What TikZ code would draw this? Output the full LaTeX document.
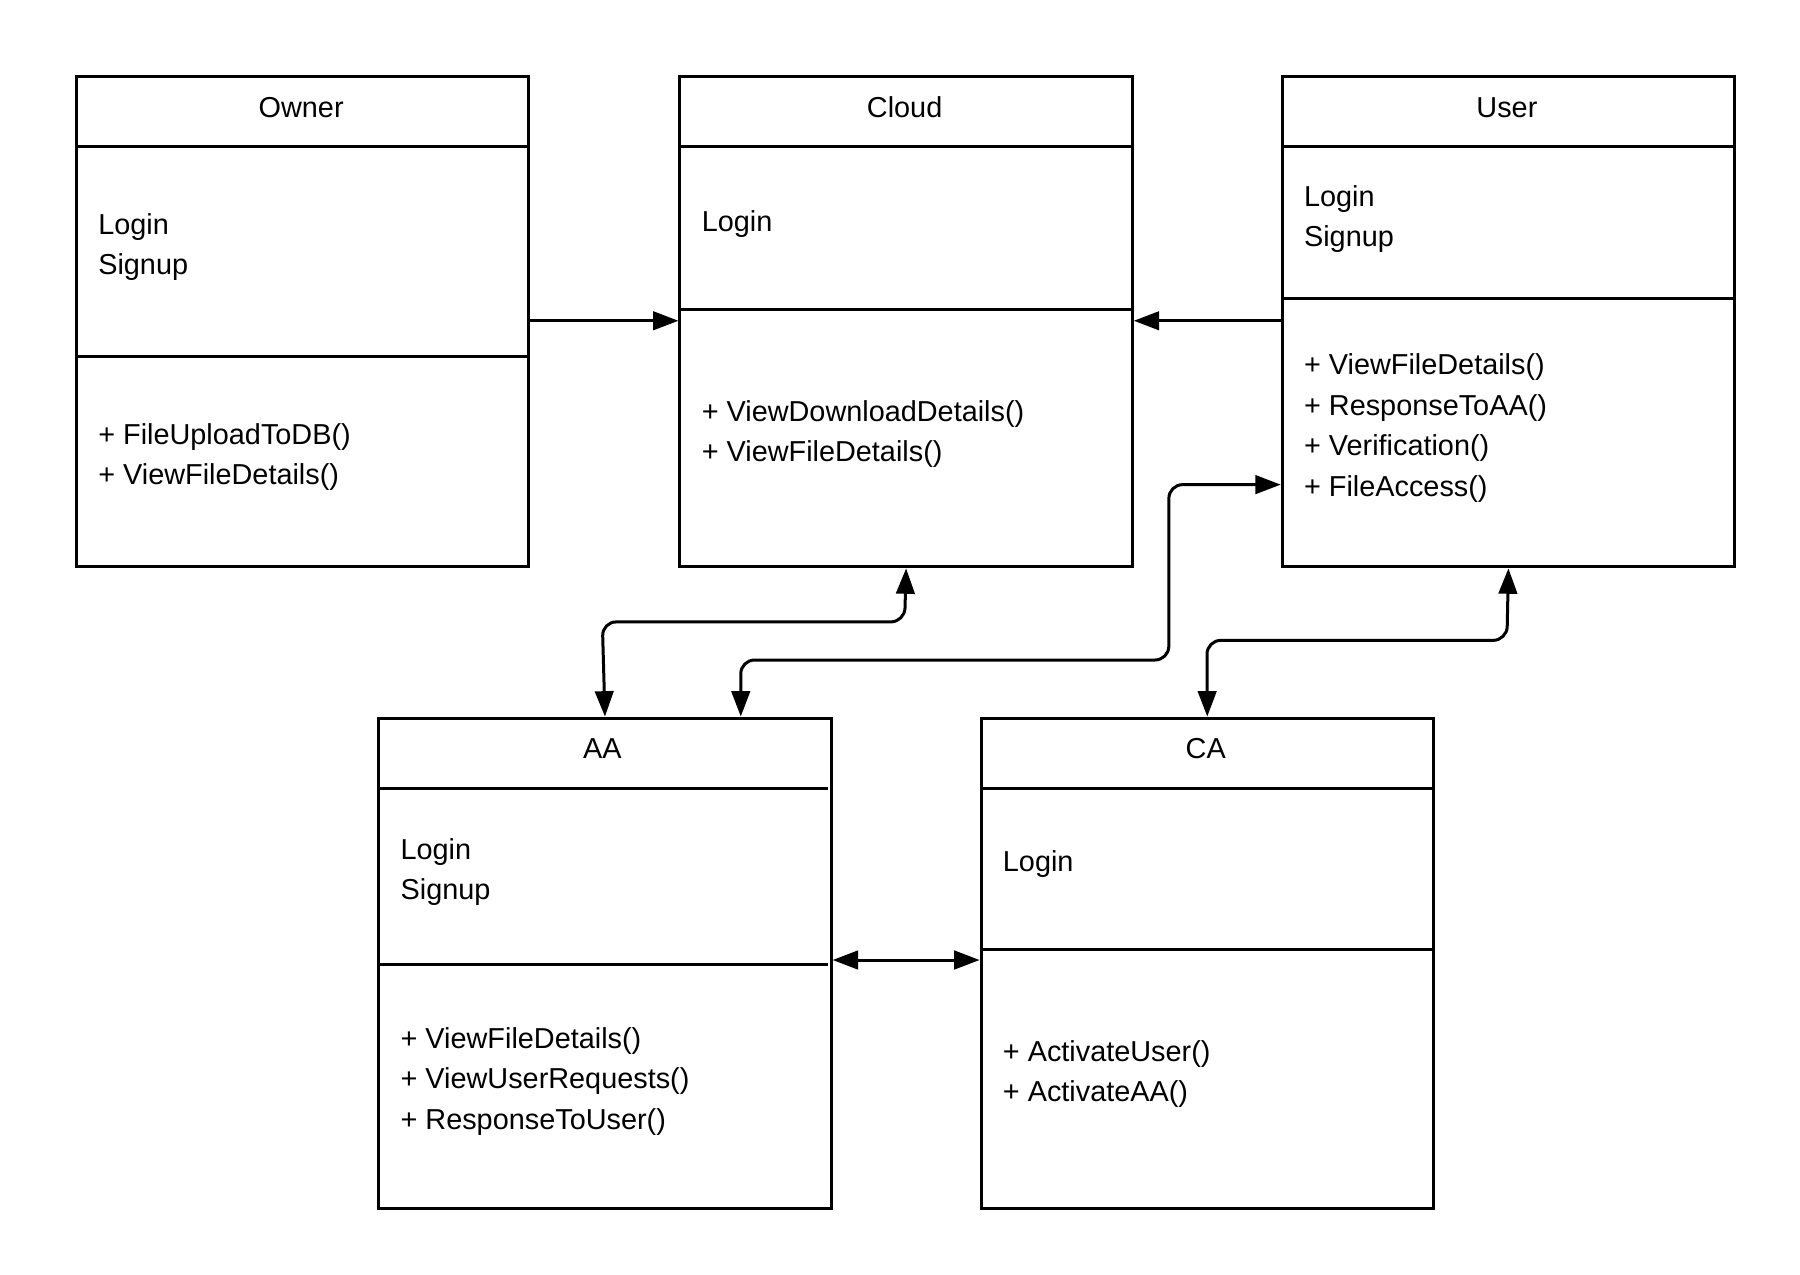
\documentclass[tikz,border=0pt]{standalone}
\usepackage{fontspec}
\setmainfont{Liberation Sans}
\usetikzlibrary{arrows.meta,calc}
\begin{document}
\begin{tikzpicture}[x=1pt,y=-1pt,
  box/.style={draw,line width=2.6pt,rectangle,minimum width=392pt,minimum height=425pt,anchor=north west,inner sep=0pt},
  ln/.style={line width=2.6pt},
  txt/.style={anchor=west,font=\fontsize{25}{35}\selectfont,inner sep=0pt,align=left},
  ttl/.style={anchor=center,font=\fontsize{25}{30}\selectfont,inner sep=0pt},
  con/.style={line width=2.6pt,rounded corners=12pt,>={Triangle[length=22pt,width=16pt]}}]
\useasboundingbox (0,0) rectangle (1560,1105);
% Boxes
\node[box] (owner) at (65,65) {};
\node[box] (cloud) at (588,65) {};
\node[box] (user) at (1110,65) {};
\node[box] (aa) at (327,621) {};
\node[box] (ca) at (849,621) {};
% dividers
\draw[ln] (65,127) -- (457,127) (65,309) -- (457,309);
\draw[ln] (588,127) -- (980,127) (588,268) -- (980,268);
\draw[ln] (1110,127) -- (1502,127) (1110,259) -- (1502,259);
\draw[ln] (327,683) -- (718,683) (327,836) -- (718,836);
\draw[ln] (849,683) -- (1241,683) (849,823) -- (1241,823);
% titles
\node[ttl] (tOwner) at (261,93) {Owner};
\node[ttl] (tCloud) at (784,93) {Cloud};
\node[ttl] (tUser) at (1306,93) {User};
\node[ttl] (tAA) at (522,649) {AA};
\node[ttl] (tCA) at (1045,649) {CA};
% contents
\node[txt] (aOwner) at (85,214) {Login\\Signup};
\node[txt] (mOwner) at (85,396) {+ FileUploadToDB()\\+ ViewFileDetails()};
\node[txt] (aCloud) at (608,194) {Login};
\node[txt] (mCloud) at (608,376) {+ ViewDownloadDetails()\\+ ViewFileDetails()};
\node[txt] (aUser) at (1130,190) {Login\\Signup};
\node[txt] (mUser) at (1130,371) {+ ViewFileDetails()\\+ ResponseToAA()\\+ Verification()\\+ FileAccess()};
\node[txt] (aAA) at (347,756) {Login\\Signup};
\node[txt] (mAA) at (347,937) {+ ViewFileDetails()\\+ ViewUserRequests()\\+ ResponseToUser()};
\node[txt] (aCA) at (869,749) {Login};
\node[txt] (mCA) at (869,931) {+ ActivateUser()\\+ ActivateAA()};
% connectors
\draw[con,->] (owner.east |- 0,278) -- (cloud.west |- 0,278);
\draw[con,->] (user.west |- 0,278) -- (cloud.east |- 0,278);
\draw[con,<->] (cloud.south) -- (784,539) -- (522,539) -- (aa.north);
\draw[con,<->] (aa.north -| 642,0) -- (642,572) -- (1013,572) -- (1013,420) -- (user.west |- 0,420);
\draw[con,<->] (user.south) -- (1306,555) -- (1046,555) -- (ca.north);
\draw[con,<->] (aa.east |- 0,832) -- (ca.west |- 0,832);
\end{tikzpicture}
\end{document}
